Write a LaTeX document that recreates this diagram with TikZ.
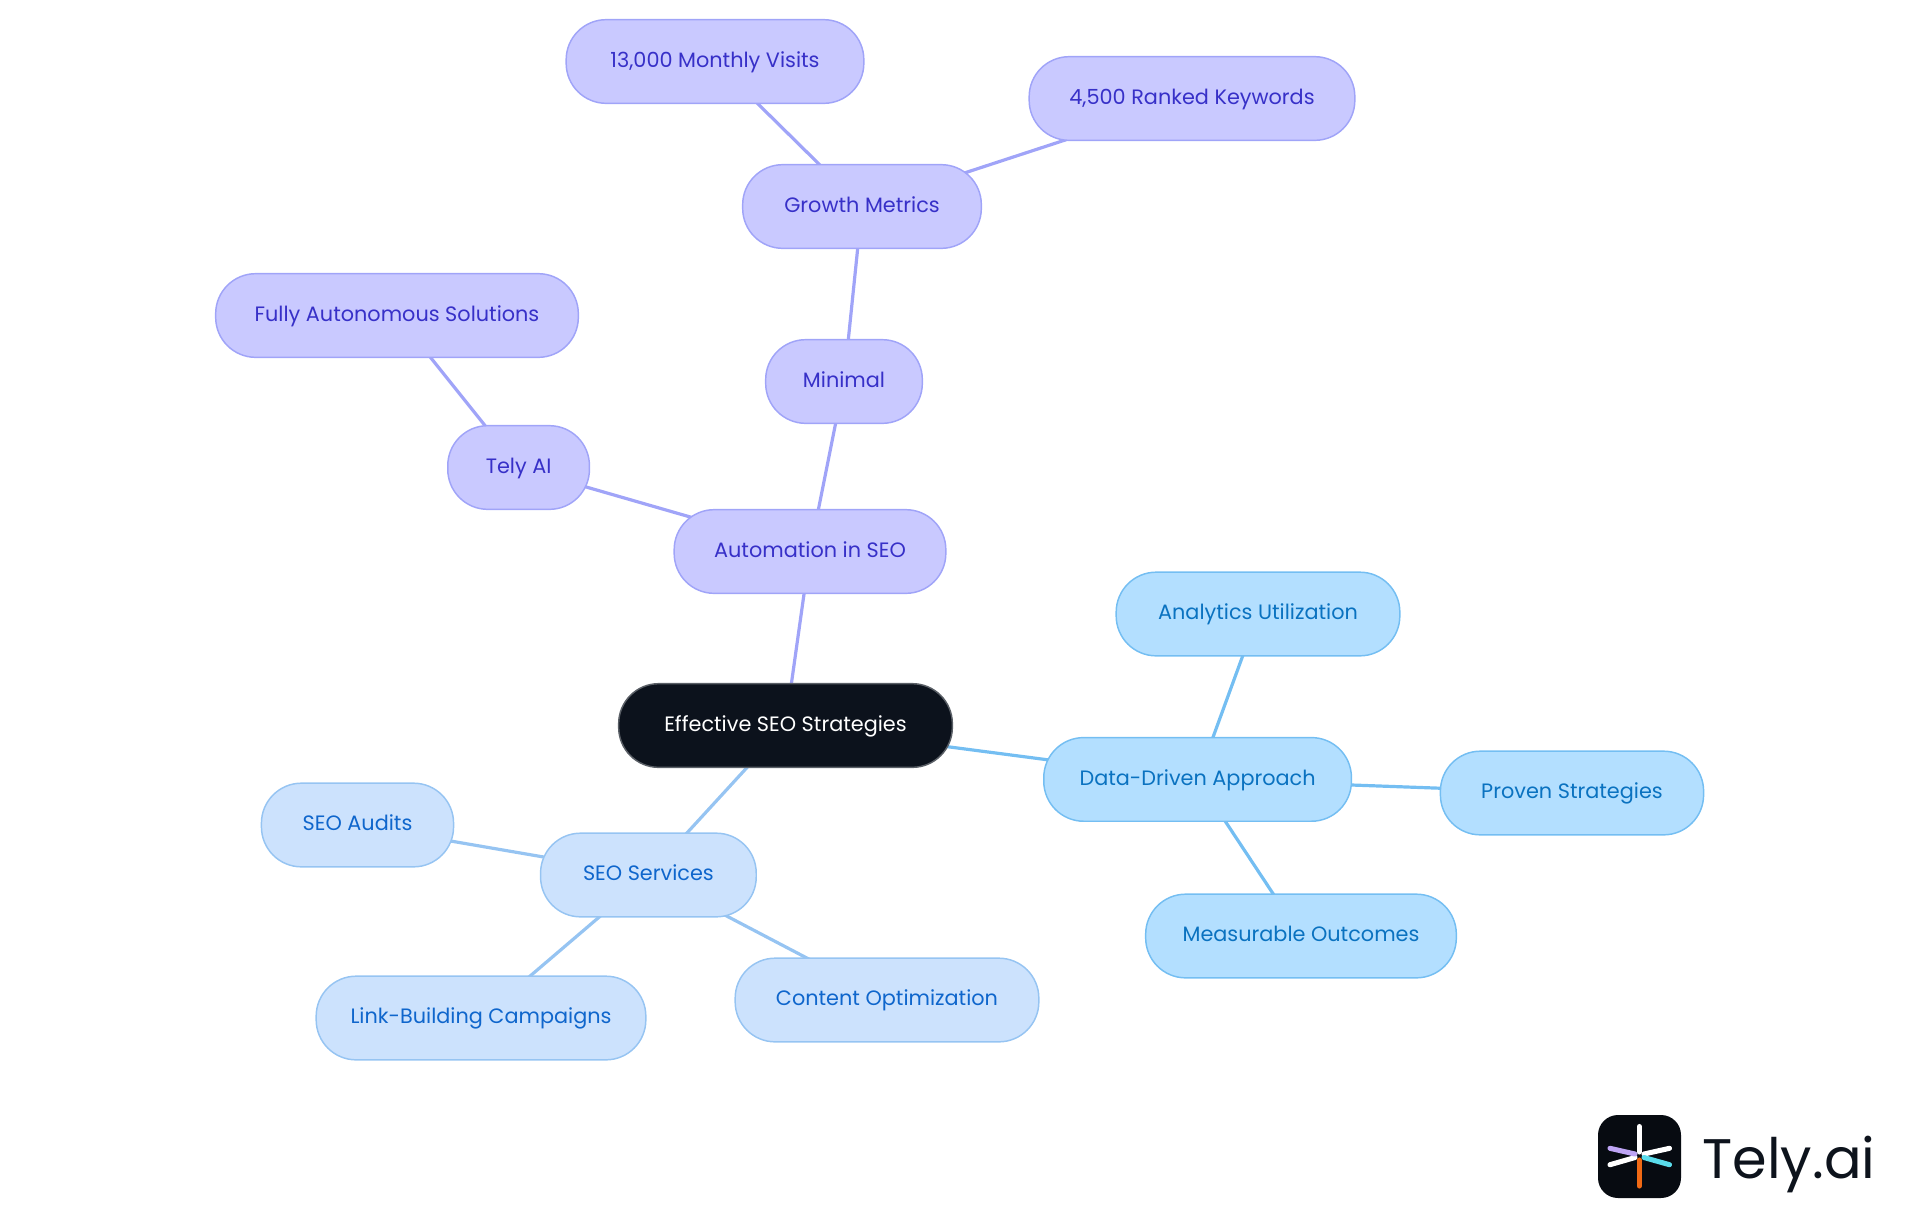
\documentclass[tikz,border=0pt]{standalone}
\usepackage{fontspec}
\setmainfont{Poppins}
\usetikzlibrary{backgrounds}
\definecolor{rootfill}{HTML}{0C121C}
\definecolor{rootline}{HTML}{5A5F66}
\definecolor{autofill}{HTML}{C9C9FF}
\definecolor{autoline}{HTML}{A0A4F8}
\definecolor{autotext}{HTML}{3730C8}
\definecolor{servfill}{HTML}{CCE2FD}
\definecolor{servline}{HTML}{96C4F2}
\definecolor{servtext}{HTML}{0F66CC}
\definecolor{datafill}{HTML}{B3DFFF}
\definecolor{dataline}{HTML}{74BEF2}
\definecolor{datatext}{HTML}{0A72C0}
\definecolor{logoink}{HTML}{0D131C}
\tikzset{
  mapnode/.style={rectangle,rounded corners=30pt,minimum height=62.75pt,inner sep=0pt,line width=1.1pt,
    font=\fontsize{15.6pt}{19pt}\selectfont,text height=12pt,text depth=3.5pt},
  rootnode/.style={mapnode,fill=rootfill,draw=rootline,text=white},
  autonode/.style={mapnode,fill=autofill,draw=autoline,text=autotext},
  servnode/.style={mapnode,fill=servfill,draw=servline,text=servtext},
  datanode/.style={mapnode,fill=datafill,draw=dataline,text=datatext},
  autoedge/.style={draw=autoline,line width=2.4pt},
  servedge/.style={draw=servline,line width=2.4pt},
  dataedge/.style={draw=dataline,line width=2.4pt},
  spoke/.style={line width=3.8pt,line cap=round}
}
\begin{document}
\begin{tikzpicture}[x=0.75pt,y=0.75pt,yscale=-1,xscale=1]
\useasboundingbox (0,0) rectangle (1920,1215);

% Root Node
\draw (785.5,725.5) node [rootnode,minimum width=250.25pt] (root) {Effective SEO Strategies};

% Automation Nodes
\draw (810,551.5) node [autonode,minimum width=203.75pt] (automation) {Automation in SEO};
\draw (844,381.5) node [autonode,minimum width=117.5pt] (minimal) {Minimal};
\draw (862,206.5) node [autonode,minimum width=179pt] (growth) {Growth Metrics};
\draw (715,61.5) node [autonode,minimum width=223.25pt] (visits) {13,000 Monthly Visits};
\draw (1192,98.5) node [autonode,minimum width=244.25pt] (keywords) {4,500 Ranked Keywords};
\draw (518.6,467.5) node [autonode,minimum width=106.25pt] (tely) {Tely AI};
\draw (397,315.5) node [autonode,minimum width=272pt] (solutions) {Fully Autonomous Solutions};

% Service Nodes
\draw (648.4,875) node [servnode,minimum width=161.75pt] (services) {SEO Services};
\draw (357.5,825) node [servnode,minimum width=144.1pt] (audits) {SEO Audits};
\draw (481,1018) node [servnode,minimum width=247.25pt] (links) {Link-Building Campaigns};
\draw (887,1000) node [servnode,minimum width=227.75pt] (content) {Content Optimization};

% Data Nodes
\draw (1197.6,779.4) node [datanode,minimum width=230.75pt] (data) {Data-Driven Approach};
\draw (1258,614) node [datanode,minimum width=212.75pt] (analytics) {Analytics Utilization};
\draw (1572,793) node [datanode,minimum width=197.4pt] (proven) {Proven Strategies};
\draw (1301,936) node [datanode,minimum width=233pt] (outcomes) {Measurable Outcomes};

% Straight Lines
\begin{scope}[on background layer]
\draw [autoedge] (root.center) -- (automation.center);
\draw [autoedge] (automation.center) -- (minimal.center);
\draw [autoedge] (minimal.center) -- (growth.center);
\draw [autoedge] (growth.center) -- (visits.center);
\draw [autoedge] (growth.center) -- (keywords.center);
\draw [autoedge] (automation.center) -- (tely.center);
\draw [autoedge] (tely.center) -- (solutions.center);
\draw [servedge] (root.center) -- (services.center);
\draw [servedge] (services.center) -- (audits.center);
\draw [servedge] (services.center) -- (links.center);
\draw [servedge] (services.center) -- (content.center);
\draw [dataedge] (root.center) -- (data.center);
\draw [dataedge] (data.center) -- (analytics.center);
\draw [dataedge] (data.center) -- (proven.center);
\draw [dataedge] (data.center) -- (outcomes.center);
\end{scope}

% Logo
\fill [rootfill!60!black,rounded corners=15pt] (1598,1115) rectangle (1681,1198);
\draw [spoke,white] (1639.3,1152) -- (1639.3,1126.5);
\draw [spoke,white] (1635,1157.5) -- (1610,1164.7);
\draw [spoke,white] (1644,1154) -- (1669.5,1148.3);
\draw [spoke,color={rgb, 255:red, 190; green, 165; blue, 245 }] (1635,1154) -- (1610,1148.3);
\draw [spoke,color={rgb, 255:red, 90; green, 220; blue, 235 }] (1644,1157.5) -- (1669.5,1164.7);
\draw [spoke,color={rgb, 255:red, 240; green, 105; blue, 20 }] (1639.3,1160) -- (1639.3,1186);

% Text Node
\draw (1789,1178) node [anchor=base,text=logoink,font=\fontsize{41.8pt}{50pt}\selectfont] (brand) {Tely.ai};
\end{tikzpicture}
\end{document}
